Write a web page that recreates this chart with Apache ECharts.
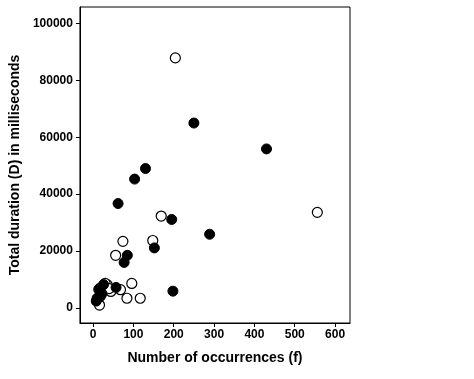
<!DOCTYPE html>
<html>
<head>
<meta charset="utf-8">
<script src="https://cdn.jsdelivr.net/npm/echarts@6/dist/echarts.min.js"></script>
<style>
html,body{margin:0;padding:0;background:#fff;}
#c{width:474px;height:379px;}
</style>
</head>
<body>
<div id="c"></div>
<script>
var xTicks = [0, 100, 200, 300, 400, 500, 600];
var yTicks = [0, 20000, 40000, 60000, 80000, 100000];
var filledPoints = [
  [250, 65000], [430, 55900], [130, 49000], [103, 45300], [62, 36700],
  [195, 31100], [289, 25900], [152, 21100], [85, 18500], [77, 16000],
  [57, 7200], [198, 5900], [26, 8200], [14, 6500], [22, 5000],
  [10, 3400], [8, 2400], [18, 4000]
];
var hollowPoints = [
  [204, 87900], [556, 33600], [169, 32300], [74, 23400], [148, 23700],
  [56, 18500], [96, 8600], [117, 3400], [84, 3400], [68, 6400],
  [44, 5800], [35, 8200], [30, 8600], [16, 1000], [40, 6800], [18, 7000]
];
var xName = 'Number of occurrences (f)';
var yName = 'Total duration (D) in milliseconds';

var chart = echarts.init(document.getElementById('c'));
var fam = 'Liberation Sans, Arial, sans-serif';
var labelFont = {fontFamily: fam, fontWeight: 'bold', fontSize: 12, color: '#000', formatter: function (v) { return String(v); }};
var nameFont = {fontFamily: fam, fontWeight: 'bold', fontSize: 14, color: '#000'};
chart.setOption({
  animation: false,
  backgroundColor: '#fff',
  grid: {left: 76, right: 124, top: 7, bottom: 56, show: true, borderColor: '#000', borderWidth: 1, backgroundColor: 'transparent'},
  xAxis: {
    type: 'value', min: -32.5, max: 637,
    name: xName, nameLocation: 'middle', nameGap: 28,
    nameTextStyle: nameFont,
    axisLine: {show: true, onZero: false, lineStyle: {color: '#000', width: 1}},
    axisTick: {show: true, length: 4, inside: false, customValues: xTicks, lineStyle: {color: '#000'}},
    axisLabel: Object.assign({margin: 6, customValues: xTicks}, labelFont),
    splitLine: {show: false}
  },
  yAxis: {
    type: 'value', min: -5300, max: 105800,
    name: yName, nameLocation: 'middle', nameGap: 50,
    nameTextStyle: nameFont,
    axisLine: {show: true, onZero: false, lineStyle: {color: '#000', width: 1}},
    axisTick: {show: true, length: 4, inside: false, customValues: yTicks, lineStyle: {color: '#000'}},
    axisLabel: Object.assign({margin: 7, customValues: yTicks}, labelFont),
    splitLine: {show: false}
  },
  series: [
    {
      type: 'scatter', data: hollowPoints, symbol: 'circle', symbolSize: 10,
      itemStyle: {color: '#fff', borderColor: '#000', borderWidth: 1.2, opacity: 1}
    },
    {
      type: 'scatter', data: filledPoints, symbol: 'circle', symbolSize: 10,
      itemStyle: {color: '#000', borderColor: '#000', borderWidth: 1, opacity: 1}
    }
  ]
});
</script>
</body>
</html>
